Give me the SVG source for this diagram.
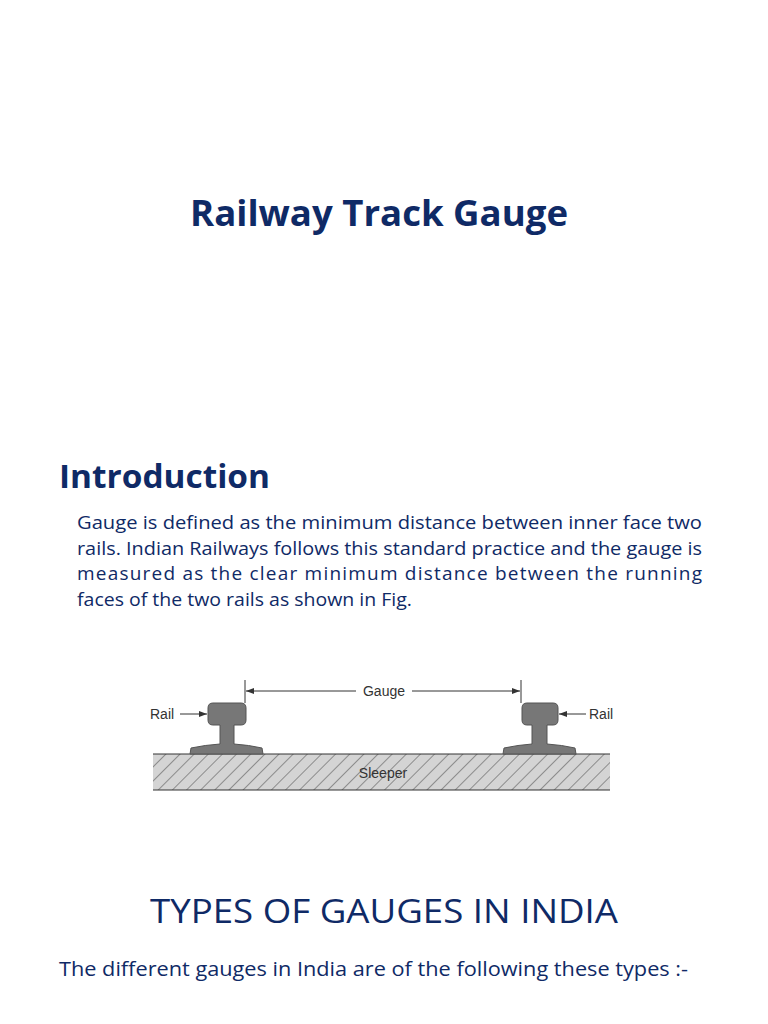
<svg xmlns="http://www.w3.org/2000/svg" width="768" height="1024" viewBox="0 0 768 1024">
<style>
.t{font-family:"Open Sans","Liberation Sans",sans-serif;fill:#0f2a66}
.f{font-family:"Liberation Sans",Arial,sans-serif;font-size:14px;fill:#333}
.rail{fill:#777;stroke:#555;stroke-width:1}
.ln{stroke:#333;stroke-width:1;fill:none}
</style>
<defs>
<pattern id="h" width="10" height="10" patternUnits="userSpaceOnUse" patternTransform="rotate(45)">
<rect width="10" height="10" fill="#d4d4d4"/><line x1="0" y1="0" x2="0" y2="10" stroke="#444" stroke-width="1"/>
</pattern>
<marker id="a" markerWidth="8" markerHeight="6" refX="8" refY="3" orient="auto" markerUnits="userSpaceOnUse"><path d="M0,0L8,3L0,6z" fill="#333"/></marker>
</defs>
<rect width="768" height="1024" fill="#fff"/>
<text class="t" x="379" y="226" text-anchor="middle" font-size="35" font-weight="bold" textLength="378" lengthAdjust="spacingAndGlyphs">Railway Track Gauge</text>
<text class="t" x="59" y="488" font-size="32" font-weight="bold" textLength="211" lengthAdjust="spacingAndGlyphs">Introduction</text>
<g class="t" font-size="19">
<text x="77" y="529" textLength="625" lengthAdjust="spacingAndGlyphs">Gauge is defined as the minimum distance between inner face two</text>
<text x="77" y="555" textLength="625" lengthAdjust="spacingAndGlyphs">rails. Indian Railways follows this standard practice and the gauge is</text>
<text x="77" y="580" textLength="625">measured as the clear minimum distance between the running</text>
<text x="77" y="606" textLength="335" lengthAdjust="spacingAndGlyphs">faces of the two rails as shown in Fig.</text>
</g>
<g id="sleeper"><rect x="153" y="754" width="457" height="36" fill="url(#h)"/><line class="ln" x1="153" y1="754" x2="610" y2="754"/><line class="ln" x1="153" y1="790" x2="610" y2="790"/>
<text class="f" x="383" y="778" text-anchor="middle">Sleeper</text></g>
<g id="rail-left"><path class="rail" d="M190,754L191,748Q205,745 220,744L220,725L213,725Q208,725 208,720L208,708Q208,703 213,703L241,703Q246,703 246,708L246,720Q246,725 241,725L234,725L234,744Q249,745 262,748L263,754Z"/></g>
<g id="rail-right"><path class="rail" d="M503,754L504,748Q518,745 532,744L532,725L527,725Q522,725 522,720L522,708Q522,703 527,703L553,703Q558,703 558,708L558,720Q558,725 553,725L547,725L547,744Q562,745 575,748L576,754Z"/></g>
<g id="connectors">
<line class="ln" x1="245" y1="680" x2="245" y2="703"/><line class="ln" x1="521" y1="680" x2="521" y2="703"/>
<line class="ln" x1="356" y1="691" x2="246" y2="691" marker-end="url(#a)"/>
<line class="ln" x1="412" y1="691" x2="520" y2="691" marker-end="url(#a)"/>
<line class="ln" x1="180" y1="714" x2="207" y2="714" marker-end="url(#a)"/>
<line class="ln" x1="586" y1="714" x2="559" y2="714" marker-end="url(#a)"/>
</g>
<text class="f" x="384" y="696" text-anchor="middle">Gauge</text>
<text class="f" x="150" y="719">Rail</text>
<text class="f" x="589" y="719">Rail</text>
<text class="t" x="384" y="923" text-anchor="middle" font-size="33" textLength="468" lengthAdjust="spacingAndGlyphs">TYPES OF GAUGES IN INDIA</text>
<text class="t" x="59" y="976" font-size="19.5" textLength="629" lengthAdjust="spacingAndGlyphs">The different gauges in India are of the following these types :-</text>
</svg>
